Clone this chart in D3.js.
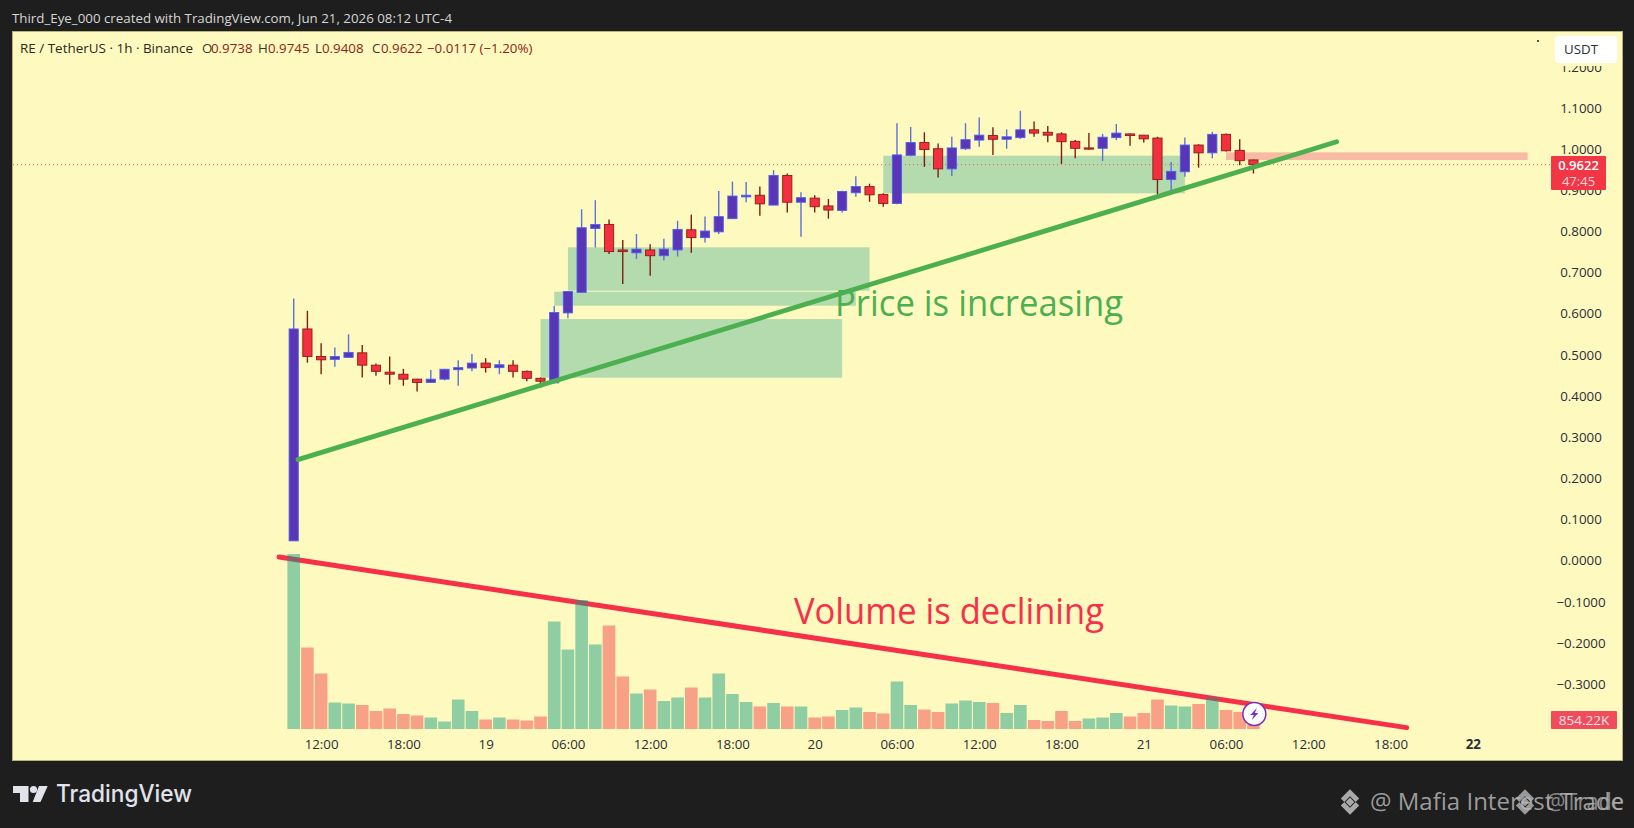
<!DOCTYPE html>
<html>
<head>
<meta charset="utf-8">
<title>RE / TetherUS</title>
<script src="https://cdn.jsdelivr.net/npm/d3@7/dist/d3.min.js"></script>
<style>
    html, body { margin: 0; padding: 0; background: #1e1e1e; overflow: hidden; }
    svg { display: block; }
    text { font-family: "Open Sans", "Noto Sans", sans-serif; }
    .axis .domain, .axis line { display: none; }
</style>
</head>
<body>
<div id="chart"></div>
<script>
// one hourly candle per entry, the first one is Jun 18 10:00
var opens = [0.048,0.563,0.496,0.489,0.494,0.505,0.475,0.458,0.453,0.441,0.433,0.441,0.464,0.468,0.480,0.469,0.475,0.460,0.443,0.432,
    0.602,0.652,0.807,0.817,0.755,0.748,0.755,0.741,0.755,0.804,0.785,0.799,0.831,0.884,0.888,0.864,0.936,0.871,0.881,0.862,
    0.851,0.894,0.909,0.890,0.868,0.985,1.016,1.001,0.952,1.001,1.022,1.033,1.024,1.028,1.047,1.041,1.037,1.019,1.003,1.002,
    1.028,1.037,1.034,1.027,0.926,0.945,1.010,0.991,1.036,0.997,0.9738];
var highs = [0.637,0.607,0.528,0.518,0.550,0.524,0.479,0.496,0.466,0.442,0.463,0.466,0.487,0.502,0.492,0.487,0.487,0.462,0.445,0.619,
    0.655,0.854,0.876,0.829,0.779,0.794,0.769,0.782,0.826,0.841,0.836,0.898,0.921,0.920,0.909,0.949,0.941,0.895,0.888,0.879,
    0.899,0.934,0.916,0.893,1.063,1.054,1.041,1.014,1.030,1.063,1.077,1.053,1.048,1.093,1.067,1.056,1.041,1.022,1.039,1.037,
    1.061,1.038,1.034,1.030,0.969,1.028,1.012,1.042,1.038,1.024,0.9745];
var lows = [0.048,0.481,0.453,0.471,0.494,0.445,0.449,0.428,0.425,0.411,0.432,0.438,0.425,0.460,0.457,0.453,0.445,0.436,0.420,0.432,
    0.589,0.652,0.761,0.745,0.672,0.733,0.692,0.730,0.739,0.748,0.773,0.794,0.831,0.871,0.838,0.864,0.846,0.787,0.846,0.831,
    0.846,0.884,0.872,0.860,0.866,0.983,0.957,0.931,0.935,0.998,1.006,0.986,1.001,1.025,1.030,1.017,0.964,0.978,0.999,0.971,
    1.022,1.008,1.016,0.891,0.897,0.933,0.955,0.978,0.994,0.961,0.9408];
var closes = [0.563,0.496,0.488,0.496,0.506,0.475,0.460,0.453,0.441,0.433,0.441,0.465,0.469,0.480,0.469,0.476,0.460,0.443,0.436,0.603,
    0.654,0.809,0.817,0.751,0.751,0.757,0.741,0.757,0.805,0.785,0.801,0.836,0.886,0.888,0.867,0.936,0.871,0.882,0.860,0.852,
    0.897,0.909,0.889,0.868,0.986,1.016,0.999,0.952,1.003,1.023,1.034,1.024,1.030,1.047,1.039,1.034,1.018,1.002,1.000,1.029,
    1.039,1.033,1.025,0.926,0.946,1.010,0.991,1.036,0.996,0.972,0.9622];
// volume in millions
var volumes = [35,16.3,11.1,5.3,5.1,4.8,3.6,4.1,3,2.7,2.3,1.5,5.9,3.6,1.9,2.3,1.9,1.7,2.5,21.5,
    15.9,25.8,16.9,20.7,10.5,7.1,7.9,5.6,6.3,8.3,6.3,11.1,7,5.4,4.5,5.2,4.5,4.5,2.3,2.5,
    3.8,4.3,3.4,3.1,9.5,4.8,3.9,3.4,5.1,5.7,5.4,5.2,3.2,4.8,1.8,1.6,3.6,1.6,2.1,2.3,
    3.2,2.5,3.2,5.9,4.7,4.5,5,6.3,3.8,3.4,0.854];
// candle 58 is a doji, its volume bar is green
var dojiUpVolume = [58];

var priceTicks = [1.2,1.1,1.0,0.9,0.8,0.7,0.6,0.5,0.4,0.3,0.2,0.1,0,-0.1,-0.2,-0.3];
var tickHours = [2,8,14,20,26,32,38,44,50,56,62,68,74,80,86];
var tickLabels = ["12:00","18:00","19","06:00","12:00","18:00","20","06:00","12:00","18:00","21","06:00","12:00","18:00","22"];
var boldTicks = ["22"];

// zones: start hour, end hour, top price, bottom price
var zoneStart = [18,19,20,43];
var zoneEnd = [40,41,42,65];
var zoneTop = [0.587,0.6535,0.7614,0.984];
var zoneBottom = [0.4445,0.6195,0.656,0.8926];
var resistance = {start: 68, end: 90, top: 0.9922, bottom: 0.9735};

var priceTrendHours = [0.31,76.07];
var priceTrendValues = [0.2454,1.018];
var volumeTrendHours = [-1.07,81.18];
var volumeTrendValues = [0.0087,-0.406];

var lastPrice = 0.9622;

var legendParts = [
    {t: "O", x: 202, v: false}, {t: "0.9738", x: 211, v: true},
    {t: "H", x: 258, v: false}, {t: "0.9745", x: 268, v: true},
    {t: "L", x: 315, v: false}, {t: "0.9408", x: 322, v: true},
    {t: "C", x: 372, v: false}, {t: "0.9622", x: 381, v: true},
    {t: "\u22120.0117 (\u22121.20%)", x: 427, v: true}
];

var width = 1634, height = 828;
var panel = {left: 12, top: 31, right: 1622, bottom: 760};
var colors = {
    dark: "#1e1e1e", bg: "#fef9be", zone: "#b4dbae", band: "#f6bba2",
    upBody: "#5a35b8", upEdge: "#4a62f0", upWick: "#5a72dc",
    downBody: "#f23040", downEdge: "#8c1c14", downWick: "#7c1f12",
    green: "#4caf50", red: "#f7304a", axis: "#2a2e39"
};

var x = d3.scaleLinear().domain([0, 86]).range([293.7, 1472.8]);
var y = d3.scaleLinear().domain([0, 1.1]).range([560.6, 108]);
var yVol = d3.scaleLinear().domain([0, 35]).range([729, 554]);

var svg = d3.select("#chart").append("svg").attr("width", width).attr("height", height);

svg.append("rect").attr("width", width).attr("height", height).attr("fill", colors.dark);
svg.append("rect")
    .attr("x", panel.left + 0.5).attr("y", panel.top + 0.5)
    .attr("width", panel.right - panel.left).attr("height", panel.bottom - panel.top)
    .attr("fill", colors.bg).attr("stroke", "#b8b37e");

drawHeader();
drawZones();
drawLastPriceLine();
drawVolumeTrend();
drawVolumes();
drawCandles();
drawPriceTrend();
drawAxes();
drawLabels();
drawFooter();

function drawHeader() {
    svg.append("text").attr("x", 12).attr("y", 23).attr("font-size", 13.5).attr("fill", "#d6d6d6")
        .attr("textLength", 440).attr("lengthAdjust", "spacingAndGlyphs")
        .text("Third_Eye_000 created with TradingView.com, Jun 21, 2026 08:12 UTC-4");
    svg.append("text").attr("x", 20).attr("y", 53).attr("font-size", 13.5).attr("fill", "#2a2a20")
        .attr("textLength", 173).attr("lengthAdjust", "spacingAndGlyphs")
        .text("RE / TetherUS \u00b7 1h \u00b7 Binance");
    svg.selectAll("text.legend").data(legendParts).enter().append("text")
        .attr("class", "legend")
        .attr("x", function(d) { return d.x; })
        .attr("y", 53).attr("font-size", 13.3)
        .attr("fill", function(d) { return d.v ? "#8c2318" : "#3a3a28"; })
        .text(function(d) { return d.t; });
}

function drawZones() {
    svg.append("g").selectAll("rect").data(d3.range(zoneStart.length)).enter().append("rect")
        .attr("x", function(i) { return x(zoneStart[i]); })
        .attr("width", function(i) { return x(zoneEnd[i]) - x(zoneStart[i]); })
        .attr("y", function(i) { return y(zoneTop[i]); })
        .attr("height", function(i) { return y(zoneBottom[i]) - y(zoneTop[i]); })
        .attr("fill", colors.zone);
    svg.append("rect")
        .attr("x", x(resistance.start)).attr("width", x(resistance.end) - x(resistance.start))
        .attr("y", y(resistance.top)).attr("height", y(resistance.bottom) - y(resistance.top))
        .attr("fill", colors.band);
}

function drawLastPriceLine() {
    svg.append("line")
        .attr("x1", panel.left + 1).attr("x2", 1551)
        .attr("y1", y(lastPrice)).attr("y2", y(lastPrice))
        .attr("stroke", "#e8604c").attr("stroke-width", 1).attr("stroke-dasharray", "1 3");
}

function drawTrend(hours, values, color, strokeWidth) {
    svg.append("line")
        .attr("x1", x(hours[0])).attr("y1", y(values[0]))
        .attr("x2", x(hours[1])).attr("y2", y(values[1]))
        .attr("stroke", color).attr("stroke-width", strokeWidth).attr("stroke-linecap", "round");
}

function drawVolumeTrend() {
    drawTrend(volumeTrendHours, volumeTrendValues, colors.red, 5);
}

function drawPriceTrend() {
    drawTrend(priceTrendHours, priceTrendValues, colors.green, 4.8);
}

function drawVolumes() {
    var barWidth = 12.6;
    svg.append("g").selectAll("rect").data(volumes).enter().append("rect")
        .attr("x", function(d, i) { return x(i) - barWidth / 2; })
        .attr("width", barWidth)
        .attr("y", function(d) { return yVol(d); })
        .attr("height", function(d) { return yVol(0) - yVol(d); })
        .attr("fill", function(d, i) {
            var up = closes[i] >= opens[i] || dojiUpVolume.indexOf(i) !== -1;
            return up ? "#089981" : "#f23645";
        })
        .attr("fill-opacity", 0.45);
}

function drawCandles() {
    var bodyWidth = 9.2;
    var nodes = svg.append("g").selectAll("g").data(d3.range(opens.length)).enter().append("g");
    nodes.append("line")
        .attr("x1", function(i) { return x(i); })
        .attr("x2", function(i) { return x(i); })
        .attr("y1", function(i) { return y(highs[i]); })
        .attr("y2", function(i) { return y(lows[i]); })
        .attr("stroke-width", 1.4)
        .attr("stroke", function(i) { return closes[i] >= opens[i] ? colors.upWick : colors.downWick; });
    nodes.append("rect")
        .attr("x", function(i) { return x(i) - bodyWidth / 2; })
        .attr("width", bodyWidth)
        .attr("y", function(i) { return y(Math.max(opens[i], closes[i])); })
        .attr("height", function(i) { return Math.max(0.6, Math.abs(y(opens[i]) - y(closes[i]))); })
        .attr("fill", function(i) { return closes[i] >= opens[i] ? colors.upBody : colors.downBody; })
        .attr("stroke", function(i) { return closes[i] >= opens[i] ? colors.upEdge : colors.downEdge; })
        .attr("stroke-width", 0.9);
}

function drawAxes() {
    var yAxis = d3.axisRight(y).tickValues(priceTicks).tickSize(0)
        .tickFormat(function(d) { return d3.format(".4f")(d).replace("-", "\u2212"); });
    svg.append("g").attr("class", "axis").attr("transform", "translate(1581,0)").call(yAxis)
        .selectAll("text")
        .attr("x", 0).attr("text-anchor", "middle")
        .attr("font-size", 13.3).attr("fill", colors.axis);

    var xAxis = d3.axisBottom(x).tickValues(tickHours).tickSize(0)
        .tickFormat(function(d, i) { return tickLabels[i]; });
    svg.append("g").attr("class", "axis").attr("transform", "translate(0,736)").call(xAxis)
        .selectAll("text")
        .attr("y", 4)
        .attr("font-size", 13.3).attr("fill", colors.axis)
        .attr("font-weight", function(d, i) { return boldTicks.indexOf(tickLabels[i]) !== -1 ? 700 : 400; });
}

function drawLabels() {
    svg.append("text").attr("x", 835).attr("y", 316).attr("font-size", 36).attr("fill", colors.green)
        .attr("textLength", 288).attr("lengthAdjust", "spacingAndGlyphs")
        .text("Price is increasing");
    svg.append("text").attr("x", 794).attr("y", 624).attr("font-size", 36).attr("fill", colors.red)
        .attr("textLength", 310).attr("lengthAdjust", "spacingAndGlyphs")
        .text("Volume is declining");

    // last price tag
    svg.append("rect").attr("x", 1551).attr("y", 156).attr("width", 55).attr("height", 34)
        .attr("rx", 1).attr("fill", "#f23645");
    svg.append("text").attr("x", 1578.5).attr("y", 170).attr("text-anchor", "middle")
        .attr("font-size", 13).attr("font-weight", 600).attr("fill", "#ffffff").text(d3.format(".4f")(lastPrice));
    svg.append("text").attr("x", 1578.5).attr("y", 186).attr("text-anchor", "middle")
        .attr("font-size", 13).attr("fill", "#ffd5d5").text("47:45");

    // last volume tag
    svg.append("rect").attr("x", 1551).attr("y", 711).attr("width", 66).attr("height", 18)
        .attr("rx", 1).attr("fill", "#ef4d5e");
    svg.append("text").attr("x", 1584).attr("y", 725).attr("text-anchor", "middle")
        .attr("font-size", 13.5).attr("fill", "#ffe3e3").text("854.22K");

    // currency button, its backing hides the upper half of the top tick
    svg.append("rect").attr("x", 1552).attr("y", 33).attr("width", 68).attr("height", 33)
        .attr("fill", colors.bg);
    svg.append("rect").attr("x", 1555).attr("y", 36).attr("width", 62).attr("height", 27)
        .attr("rx", 4).attr("fill", "#ffffff");
    svg.append("text").attr("x", 1581).attr("y", 54).attr("text-anchor", "middle")
        .attr("font-size", 13.3).attr("fill", colors.axis).text("USDT");
    svg.append("circle").attr("cx", 1538).attr("cy", 41).attr("r", 1).attr("fill", "#1e1e1e");

    // flash marker on the last bar
    var flash = svg.append("g").attr("transform", "translate(" + (x(opens.length - 1) + 0.9) + ",714)");
    flash.append("circle").attr("r", 11.5).attr("fill", "#ffffff").attr("stroke", "#7b2fbf").attr("stroke-width", 1.5);
    flash.append("path").attr("d", "M2.5,-6 L-4,1 L-0.5,1 L-2.5,6 L4,-1 L0.5,-1 Z").attr("fill", "#7b2fbf");
}

function drawDiamond(cx, cy, opacity) {
    var g = svg.append("g").attr("transform", "translate(" + cx + "," + cy + ") rotate(45)")
        .attr("fill", "#b8b8b8").attr("fill-opacity", opacity);
    var s = 3.1;
    g.append("rect").attr("x", -s).attr("y", -s).attr("width", 2 * s).attr("height", 2 * s);
    g.append("path").attr("d", "M-9,-4 L-9,-9 L4,-9 L4,-4 L-4,-4 L-4,4 L-9,4 Z");
    g.append("path").attr("d", "M9,4 L9,9 L-4,9 L-4,4 L4,4 L4,-4 L9,-4 Z");
}

function drawFooter() {
    var logo = svg.append("g").attr("fill", "#e0e3eb");
    logo.append("path").attr("d", "M13,786 H28.5 V802 H20 V793 H13 Z");
    logo.append("circle").attr("cx", 33.5).attr("cy", 789.5).attr("r", 3.6);
    logo.append("path").attr("d", "M39,786 H47.7 L40.5,802 H32.7 Z");
    svg.append("text").attr("x", 56).attr("y", 802).attr("font-size", 24).attr("font-weight", 500)
        .attr("fill", "#e0e3eb").attr("textLength", 136).attr("lengthAdjust", "spacingAndGlyphs")
        .style("font-family", "Inter").text("TradingView");

    drawDiamond(1350, 802, 0.9);
    svg.append("text").attr("x", 1370).attr("y", 810).attr("font-size", 24).attr("fill", "#b4b4b4")
        .attr("fill-opacity", 0.85).attr("textLength", 254).attr("lengthAdjust", "spacingAndGlyphs")
        .text("@ Mafia Interest Trade");
    drawDiamond(1525, 802, 0.8);
    svg.append("text").attr("x", 1546).attr("y", 810).attr("font-size", 24).attr("fill", "#b4b4b4")
        .attr("fill-opacity", 0.7).attr("textLength", 78).attr("lengthAdjust", "spacingAndGlyphs")
        .text("@Trade");
}
</script>
</body>
</html>
